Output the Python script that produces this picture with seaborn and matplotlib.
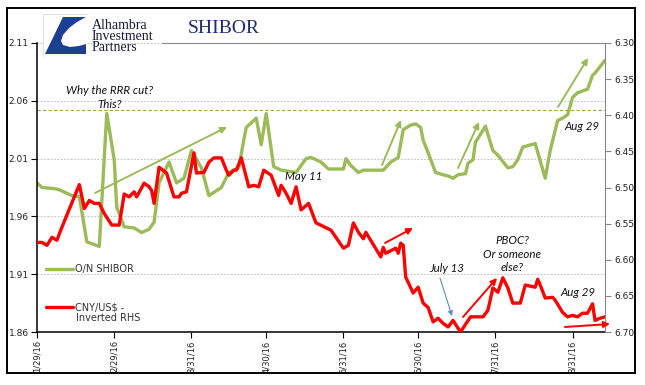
import matplotlib
matplotlib.use("Agg")
import matplotlib.pyplot as plt
from matplotlib.lines import Line2D
from matplotlib.patches import Rectangle, Polygon
import numpy as np
import pandas as pd
import seaborn as sns

# O/N SHIBOR, left axis
shibor_dates = [
    "2016-01-29", "2016-01-31", "2016-02-05", "2016-02-07", "2016-02-12", "2016-02-15",
    "2016-02-18", "2016-02-23", "2016-02-26", "2016-02-29", "2016-03-01", "2016-03-04",
    "2016-03-08", "2016-03-11", "2016-03-14", "2016-03-16", "2016-03-18", "2016-03-22",
    "2016-03-25", "2016-03-28", "2016-03-31", "2016-04-04", "2016-04-07", "2016-04-12",
    "2016-04-15", "2016-04-19", "2016-04-21", "2016-04-22", "2016-04-26", "2016-04-28",
    "2016-04-30", "2016-05-03", "2016-05-06", "2016-05-12", "2016-05-16", "2016-05-18",
    "2016-05-22", "2016-05-25", "2016-05-31", "2016-06-01", "2016-06-03", "2016-06-06",
    "2016-06-08", "2016-06-16", "2016-06-19", "2016-06-22", "2016-06-24", "2016-06-27",
    "2016-06-29", "2016-07-01", "2016-07-02", "2016-07-04", "2016-07-07", "2016-07-10",
    "2016-07-12", "2016-07-14", "2016-07-16", "2016-07-19", "2016-07-20", "2016-07-22",
    "2016-07-23", "2016-07-27", "2016-07-30", "2016-08-01", "2016-08-05", "2016-08-07",
    "2016-08-09", "2016-08-11", "2016-08-16", "2016-08-20", "2016-08-22", "2016-08-25",
    "2016-08-27", "2016-08-29", "2016-08-31", "2016-09-02", "2016-09-06", "2016-09-08",
    "2016-09-09", "2016-09-13",
]
shibor_values = [
    1.989, 1.985, 1.984, 1.983, 1.978, 1.977,
    1.938, 1.934, 2.049, 2.009, 1.968, 1.951,
    1.950, 1.946, 1.949, 1.955, 1.989, 2.007,
    1.989, 1.993, 2.017, 2.002, 1.978, 1.985,
    1.998, 2.002, 2.026, 2.037, 2.045, 2.022,
    2.049, 2.003, 2.000, 1.998, 2.010, 2.011,
    2.007, 2.001, 2.001, 2.010, 2.004, 1.998,
    2.000, 2.000, 2.007, 2.011, 2.035, 2.039,
    2.040, 2.037, 2.026, 2.015, 1.998, 1.996,
    1.995, 1.993, 1.996, 1.997, 2.006, 2.009,
    2.024, 2.038, 2.017, 2.013, 2.002, 2.003,
    2.009, 2.020, 2.023, 1.993, 2.017, 2.043,
    2.045, 2.048, 2.063, 2.067, 2.070, 2.082,
    2.084, 2.095,
]

# CNY per US$, right axis (inverted)
cny_dates = [
    "2016-01-29", "2016-01-31", "2016-02-02", "2016-02-04", "2016-02-06", "2016-02-08",
    "2016-02-15", "2016-02-17", "2016-02-19", "2016-02-21", "2016-02-23", "2016-02-25",
    "2016-02-28", "2016-03-02", "2016-03-04", "2016-03-06", "2016-03-08", "2016-03-09",
    "2016-03-12", "2016-03-14", "2016-03-15", "2016-03-16", "2016-03-18", "2016-03-21",
    "2016-03-24", "2016-03-26", "2016-03-27", "2016-03-29", "2016-04-01", "2016-04-02",
    "2016-04-05", "2016-04-07", "2016-04-09", "2016-04-12", "2016-04-14", "2016-04-15",
    "2016-04-17", "2016-04-18", "2016-04-20", "2016-04-23", "2016-04-25", "2016-04-27",
    "2016-04-29", "2016-05-02", "2016-05-05", "2016-05-06", "2016-05-08", "2016-05-10",
    "2016-05-12", "2016-05-14", "2016-05-17", "2016-05-20", "2016-05-26", "2016-05-31",
    "2016-06-02", "2016-06-04", "2016-06-06", "2016-06-08", "2016-06-09", "2016-06-15",
    "2016-06-16", "2016-06-17", "2016-06-21", "2016-06-22", "2016-06-23", "2016-06-24",
    "2016-06-25", "2016-06-28", "2016-06-30", "2016-07-02", "2016-07-04", "2016-07-06",
    "2016-07-08", "2016-07-10", "2016-07-12", "2016-07-14", "2016-07-17", "2016-07-21",
    "2016-07-26", "2016-07-28", "2016-07-30", "2016-08-01", "2016-08-03", "2016-08-05",
    "2016-08-07", "2016-08-10", "2016-08-12", "2016-08-16", "2016-08-17", "2016-08-18",
    "2016-08-20", "2016-08-23", "2016-08-24", "2016-08-27", "2016-08-29", "2016-08-31",
    "2016-09-02", "2016-09-04", "2016-09-06", "2016-09-08", "2016-09-09", "2016-09-11",
    "2016-09-13",
]
cny_values = [
    6.576, 6.576, 6.580, 6.569, 6.573, 6.555,
    6.496, 6.529, 6.518, 6.522, 6.522, 6.536,
    6.552, 6.552, 6.509, 6.513, 6.506, 6.513,
    6.494, 6.499, 6.504, 6.522, 6.472, 6.480,
    6.513, 6.513, 6.508, 6.506, 6.452, 6.480,
    6.479, 6.465, 6.459, 6.459, 6.476, 6.483,
    6.476, 6.476, 6.459, 6.499, 6.497, 6.499,
    6.476, 6.483, 6.511, 6.497, 6.508, 6.522,
    6.499, 6.531, 6.522, 6.549, 6.559, 6.584,
    6.580, 6.549, 6.562, 6.571, 6.562, 6.596,
    6.583, 6.591, 6.584, 6.591, 6.577, 6.580,
    6.624, 6.646, 6.638, 6.660, 6.666, 6.686,
    6.681, 6.688, 6.693, 6.684, 6.700, 6.679,
    6.679, 6.670, 6.639, 6.645, 6.625, 6.639,
    6.660, 6.660, 6.635, 6.638, 6.627, 6.635,
    6.653, 6.652, 6.656, 6.673, 6.679, 6.677,
    6.679, 6.674, 6.674, 6.661, 6.684, 6.681,
    6.679,
]

x_ticks = ["2016-01-29", "2016-02-29", "2016-03-31", "2016-04-30",
           "2016-05-31", "2016-06-30", "2016-07-31", "2016-08-31"]
x_tick_labels = ["1/29/16", "2/29/16", "3/31/16", "4/30/16",
                 "5/31/16", "6/30/16", "7/31/16", "8/31/16"]
left_ticks = [1.86, 1.91, 1.96, 2.01, 2.06, 2.11]
right_ticks = [6.30, 6.35, 6.40, 6.45, 6.50, 6.55, 6.60, 6.65, 6.70]
ref_level = 2.052

GREEN = "#9bbb59"
RED = "#ff0000"
NAVY = "#1f2a6e"
BLUE = "#5b8fc7"

sns.set_theme(style="white")
plt.rcParams["font.family"] = ["DejaVu Sans"]

shibor = pd.DataFrame({"date": pd.to_datetime(shibor_dates), "rate": shibor_values})
cny = pd.DataFrame({"date": pd.to_datetime(cny_dates), "fx": cny_values})

fig = plt.figure(figsize=(6.45, 3.85), dpi=100)
W, H = 645, 385
ax = fig.add_axes([37 / W, 1 - 332 / H, 568 / W, 289 / H])
ax2 = ax.twinx()

sns.lineplot(data=shibor, x="date", y="rate", ax=ax, color=GREEN, lw=2.4)
sns.lineplot(data=cny, x="date", y="fx", ax=ax2, color=RED, lw=2.4)

ax.set_xlim(pd.Timestamp("2016-01-29"), pd.Timestamp("2016-09-13"))
ax.set_ylim(1.86, 2.11)
ax2.set_ylim(6.70, 6.30)
ax.set_xlabel("")
ax.set_ylabel("")
ax2.set_ylabel("")

ax.set_xticks(pd.to_datetime(x_ticks))
ax.set_xticklabels(x_tick_labels, rotation=90, fontsize=6)
ax.set_yticks(left_ticks)
ax.set_yticklabels([f"{v:.2f}" for v in left_ticks], fontsize=6.5)
ax2.set_yticks(right_ticks)
ax2.set_yticklabels([f"{v:.2f}" for v in right_ticks], fontsize=6.5)

ax.tick_params(axis="both", direction="out", length=4, width=0.8, color="black",
               labelcolor="#222222", pad=2, left=True, bottom=True)
ax2.tick_params(axis="y", direction="out", length=4, width=0.8, color="#888888",
                labelcolor="#222222", pad=3, right=True)

ax.yaxis.grid(True, linestyle=(0, (2, 2)), color="#b5b5b5", lw=0.6)
ax.xaxis.grid(False)
ax2.grid(False)
ax.axhline(ref_level, color="#a3a347", lw=0.8, linestyle=(0, (3, 2)))

for a in (ax, ax2):
    a.spines["top"].set_visible(False)
ax.spines["left"].set_color("black")
ax.spines["left"].set_linewidth(1.1)
ax.spines["bottom"].set_color("black")
ax.spines["bottom"].set_linewidth(1.1)
ax2.spines["right"].set_color("#888888")
ax2.spines["right"].set_linewidth(0.8)
ax2.spines["left"].set_visible(False)
ax2.spines["bottom"].set_visible(False)
ax.spines["right"].set_visible(False)
ax2.plot([(162 - 37) / 568, 1], [1, 1], transform=ax2.transAxes,
         color="#888888", lw=0.8, clip_on=False)


def px(x, y):
    return ((x - 37) / 568, (332 - y) / 289)


def arrow(start, end, color, lw=1.4, scale=9):
    ax2.annotate("", xy=px(*end), xytext=px(*start), xycoords="axes fraction",
                 textcoords="axes fraction", annotation_clip=False,
                 arrowprops=dict(arrowstyle="-|>", color=color, lw=lw,
                                 mutation_scale=scale, shrinkA=0, shrinkB=0))


def note(x, y, s, **kw):
    ax2.text(*px(x, y), s, transform=ax2.transAxes, ha="center", va="center",
             fontsize=8.3, style="italic", family=["Lato", "DejaVu Sans"],
             color="#111111", **kw)


arrow((95, 193), (227, 127), GREEN)
arrow((382, 165), (401, 120), GREEN)
arrow((458, 168), (479, 122), GREEN)
arrow((558, 107), (588, 58), GREEN)
arrow((385, 243), (413, 228), RED)
arrow((463, 317), (497, 278), RED)
arrow((565, 327), (610, 324), RED)
arrow((440, 278), (452, 316), BLUE, lw=0.8, scale=7)

note(110, 90, "Why the RRR cut?")
note(110, 105, "This?")
note(304, 177, "May 11")
note(582, 127, "Aug 29")
note(447, 268, "July 13")
note(512, 254, "PBOC?\nOr someone\nelse?", linespacing=1.25)
note(578, 293, "Aug 29")

# legend: two entries, second label wraps onto a line below its handle
handles = [Line2D([], [], color=GREEN, lw=2.4), Line2D([], [], color=RED, lw=2.4)]
ax2.legend(handles, ["O/N SHIBOR", "CNY/US$ -"], loc="upper left",
           bbox_to_anchor=px(46, 264), bbox_transform=ax2.transAxes,
           frameon=False, fontsize=7, labelcolor="#333333", handlelength=2.8,
           handletextpad=0.2, borderpad=0, borderaxespad=0, labelspacing=2.95)
ax2.text(*px(76, 318), "Inverted RHS", transform=ax2.transAxes, fontsize=7,
         color="#333333", ha="left", va="center")

# logo
lax = fig.add_axes([43 / W, 1 - 57 / H, 44 / W, 43 / H])
lax.set_xlim(0, 44)
lax.set_ylim(43, 0)
lax.axis("off")
lax.add_patch(Rectangle((0, 0), 44, 43, fc="white", ec="#d8d8d8", lw=0.6))
lax.add_patch(Polygon([(20, 3), (43, 3), (34, 8), (26, 14), (20, 21), (18, 27),
                       (20, 31), (27, 33), (36, 32), (43, 30), (43, 40), (2, 40)],
                      closed=True, fc="#1c3f94", ec="none"))
fig.text(92 / W, 1 - 51 / H, "Alhambra\nInvestment\nPartners", family="Liberation Serif",
         fontsize=10, color="#1a1a3a", va="baseline", linespacing=0.78)
fig.text(188 / W, 1 - 33 / H, "SHIBOR", family="Liberation Serif", fontsize=14,
         color=NAVY, va="baseline")

fig.add_artist(Rectangle((7 / W, 1 - 373 / H), 628 / W, 365 / H,
                         transform=fig.transFigure, fill=False, ec="black", lw=1.4))

fig.savefig("out.png", dpi=100)
